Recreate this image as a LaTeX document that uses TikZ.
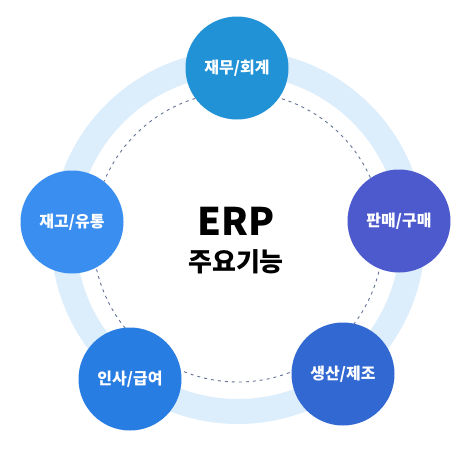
\documentclass[tikz,border=0pt]{standalone}
\usepackage{fontspec}
\newfontfamily\kr{Noto Sans CJK KR}
\definecolor{bandc}{RGB}{220,237,252}
\definecolor{dashc}{RGB}{100,115,150}
\definecolor{cTop}{RGB}{34,146,214}
\definecolor{cRight}{RGB}{76,90,205}
\definecolor{cLeft}{RGB}{58,142,240}
\definecolor{cBL}{RGB}{40,125,226}
\definecolor{cBR}{RGB}{50,104,210}
\tikzset{
  module/.style={circle, minimum size=103pt, inner sep=0pt, text=white, font=\kr\bfseries\fontsize{16}{18}\selectfont},
}
\begin{document}
\begin{tikzpicture}[x=1pt,y=-1pt]
\useasboundingbox (0,0) rectangle (474,453);
\fill[white] (0,0) rectangle (474,453);
\coordinate (c) at (238,237);
% light band
\draw[bandc, line width=25pt] (c) circle[radius=174.5];
% dashed inner ring
\draw[dashc, line width=0.9pt, dash pattern=on 3pt off 4pt] (c) circle[radius=145];
% modules
\node[module, fill=cTop]   (fin)  at (237,68)  {재무/회계};
\node[module, fill=cRight] (sale) at (399,221) {판매/구매};
\node[module, fill=cLeft]  (inv)  at (72,222)  {재고/유통};
\node[module, fill=cBL]    (hr)   at (130,379) {인사/급여};
\node[module, fill=cBR]    (prod) at (343,374) {생산/제조};
% center title
\node[font=\kr\bfseries\fontsize{38}{40}\selectfont, text=black, inner sep=0pt] (erp) at (236,221) {ERP};
\node[font=\kr\bfseries\fontsize{26}{28}\selectfont, text=black, inner sep=0pt] (kf) at (236,262) {주요기능};
\end{tikzpicture}
\end{document}
